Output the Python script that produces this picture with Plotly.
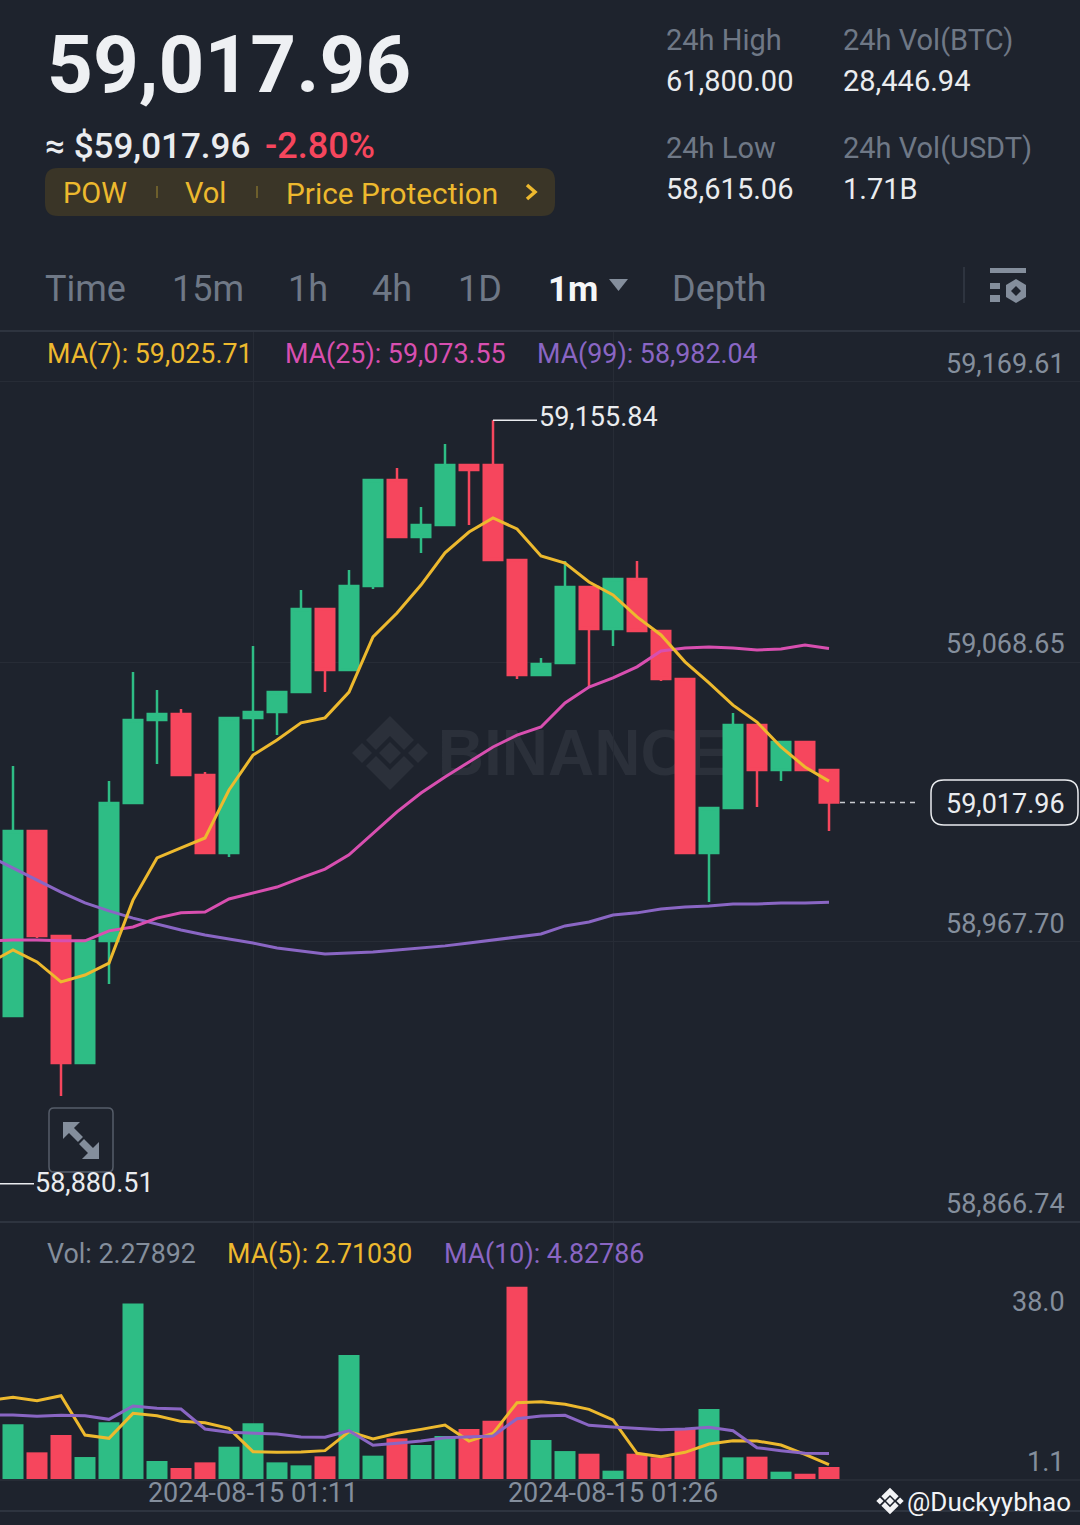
import pandas as pd
import plotly.graph_objects as go

W, H = 1080, 1525

# candles, 1 minute each
times = pd.date_range("2024-08-15 01:01", periods=35, freq="min")
ma_times = pd.date_range("2024-08-15 01:00", periods=36, freq="min")

opens = [58941.02, 59007.72, 58969.86, 58924.07, 58968.06, 59017.81, 59047.74, 59049.90, 59027.91,
         58999.78, 59048.46, 59050.62, 59057.83, 59087.76, 59065.77, 59096.05, 59134.27, 59113.72,
         59118.05, 59139.68, 59139.68, 59105.43, 59063.96, 59068.29, 59095.69, 59080.55, 59098.58,
         59079.83, 59062.52, 58999.78, 59016.01, 59045.94, 59029.71, 59039.81, 59029.71]
highs = [59031.15, 59007.72, 58969.86, 58968.06, 59025.74, 59065.04, 59058.55, 59051.70, 59028.99,
         59048.46, 59074.42, 59057.83, 59094.61, 59087.76, 59101.82, 59134.27, 59138.60, 59124.54,
         59147.25, 59139.68, 59155.84, 59105.43, 59070.09, 59105.07, 59095.69, 59098.58, 59105.07,
         59079.83, 59062.52, 59016.01, 59050.26, 59045.94, 59039.81, 59039.81, 59029.71]
lows = [58941.02, 58969.14, 58912.17, 58924.07, 58952.55, 59017.81, 59031.87, 59027.55, 58999.78,
        58998.34, 59036.56, 59042.33, 59057.83, 59057.83, 59065.77, 59094.97, 59113.72, 59107.95,
        59118.05, 59118.05, 59105.43, 59062.52, 59063.96, 59068.29, 59059.64, 59074.42, 59079.83,
        59061.80, 58999.78, 58982.12, 59016.01, 59016.37, 59025.74, 59029.71, 59007.72]
closes = [59007.72, 58969.86, 58924.07, 58968.06, 59017.81, 59047.74, 59049.90, 59027.91, 58999.78,
          59048.46, 59050.62, 59057.83, 59087.76, 59065.77, 59096.05, 59134.27, 59113.72, 59118.05,
          59139.68, 59137.88, 59105.43, 59063.96, 59067.93, 59095.69, 59080.55, 59098.58, 59079.83,
          59062.52, 58999.78, 59016.01, 59045.94, 59029.71, 59039.81, 59029.71, 59017.96]

ma7 = [58960.1, 58964.8, 58960.5, 58953.3, 58955.8, 58960.1, 58982.8, 58998.0, 59001.6, 59005.2,
       59022.5, 59035.1, 59040.5, 59046.7, 59048.5, 59057.8, 59077.7, 59086.3, 59096.4, 59108.0,
       59115.5, 59120.6, 59116.6, 59106.9, 59104.3, 59097.5, 59092.8, 59084.9, 59078.4, 59068.7,
       59061.1, 59053.1, 59047.0, 59038.0, 59030.8, 59025.71]
ma25 = [58968.1, 58968.4, 58968.4, 58968.1, 58968.1, 58971.7, 58973.1, 58976.3, 58978.2, 58978.5,
        58983.2, 58985.4, 58987.5, 58990.8, 58994.0, 58999.1, 59007.0, 59014.6, 59021.4, 59027.2,
        59032.6, 59038.0, 59042.3, 59045.2, 59053.9, 59059.6, 59062.9, 59066.9, 59072.6, 59073.7,
        59074.1, 59073.7, 59073.0, 59073.3, 59074.8, 59073.55]
ma99 = [58998.7, 58994.4, 58990.1, 58985.7, 58981.8, 58978.9, 58976.3, 58974.2, 58972.0, 58970.2,
        58968.8, 58967.3, 58965.5, 58964.5, 58963.4, 58963.7, 58964.1, 58964.8, 58965.5, 58966.3,
        58967.3, 58968.4, 58969.5, 58970.6, 58973.5, 58974.9, 58977.4, 58978.2, 58979.6, 58980.3,
        58980.7, 58981.4, 58981.4, 58981.8, 58981.8, 58982.04]

volumes = [10.4, 5.06, 8.35, 4.17, 10.75, 33.3, 3.42, 2.09, 3.16, 6.13, 10.56, 3.16, 2.59, 4.30,
           23.53, 4.43, 7.71, 6.45, 8.16, 9.5, 11.06, 36.5, 7.4, 5.3, 4.8, 1.58, 4.8, 4.11, 9.5,
           13.28, 4.11, 4.24, 1.39, 1.0, 2.27892]
vol_ma5 = [14.9, 15.5, 14.87, 15.8, 8.35, 7.72, 12.46, 12.0, 10.94, 10.69, 9.61, 5.19, 5.06, 5.12,
           5.38, 8.98, 7.59, 8.67, 9.42, 10.25, 7.2, 8.67, 14.48, 14.67, 14.17, 13.22, 11.2, 4.87,
           4.24, 5.06, 6.64, 7.27, 7.21, 6.45, 4.68, 2.71]
vol_ma10 = [12.14, 12.14, 11.89, 12.08, 12.02, 11.32, 13.85, 13.41, 13.28, 9.49, 8.85, 8.67, 8.54,
            7.97, 7.91, 9.17, 6.39, 6.77, 7.21, 7.84, 8.03, 8.16, 11.45, 11.95, 12.08, 10.19, 9.87,
            9.55, 9.36, 9.49, 9.81, 9.17, 5.94, 5.38, 4.87, 4.83]

price_ticks = [59169.61, 59068.65, 58967.70, 58866.74]
price_tick_labels = ["59,169.61", "59,068.65", "58,967.70", "58,866.74"]
time_ticks = ["2024-08-15 01:11", "2024-08-15 01:26"]
last_price = 59017.96
high_price = 59155.84
low_price = 58880.51

BG = "#1e232d"
GREEN = "#2ebd85"
RED = "#f6465d"
YELLOW = "#edb92e"
PINK = "#d84fb0"
PURPLE = "#8a66c4"
GREY = "#848e9c"
DIM = "#6f7886"
WHITE = "#eaecef"
GRID = "#272c36"
LINE = "#2e343f"
MARK = "#2b303a"


def fx(x):
    return x / W


def fy(y):
    return 1 - y / H


def to_path(points, close=True):
    s = "M" + " L".join(f"{fx(x):.5f},{fy(y):.5f}" for x, y in points)
    return s + " Z" if close else s


def round_rect(x0, y0, x1, y1, r):
    # rounded corners as short Q curves, paper coords
    return (f"M{fx(x0 + r):.5f},{fy(y0):.5f} L{fx(x1 - r):.5f},{fy(y0):.5f} "
            f"Q{fx(x1):.5f},{fy(y0):.5f} {fx(x1):.5f},{fy(y0 + r):.5f} "
            f"L{fx(x1):.5f},{fy(y1 - r):.5f} Q{fx(x1):.5f},{fy(y1):.5f} {fx(x1 - r):.5f},{fy(y1):.5f} "
            f"L{fx(x0 + r):.5f},{fy(y1):.5f} Q{fx(x0):.5f},{fy(y1):.5f} {fx(x0):.5f},{fy(y1 - r):.5f} "
            f"L{fx(x0):.5f},{fy(y0 + r):.5f} Q{fx(x0):.5f},{fy(y0):.5f} {fx(x0 + r):.5f},{fy(y0):.5f} Z")


shapes = []
annotations = []


def poly(points, fill=None, line=None, width=0, layer="above", close=True):
    shapes.append(dict(type="path", path=to_path(points, close), xref="paper", yref="paper",
                       fillcolor=fill if fill else "rgba(0,0,0,0)",
                       line=dict(color=line if line else "rgba(0,0,0,0)", width=width), layer=layer))


def hline(y, x0=0, x1=W, color=LINE, width=2):
    shapes.append(dict(type="line", xref="paper", yref="paper", x0=fx(x0), x1=fx(x1), y0=fy(y), y1=fy(y),
                       line=dict(color=color, width=width)))


def note(text, x, y, size=27, color=WHITE, anchor="left", weight=None):
    font = dict(family="Roboto", size=size, color=color)
    if weight:
        font["weight"] = weight
    annotations.append(dict(text=text, x=fx(x), y=fy(y), xref="paper", yref="paper", showarrow=False,
                            xanchor=anchor, yanchor="middle", font=font, borderpad=0))


def logo(cx, cy, s, fill, layer="above"):
    diamond = lambda dx, r: [(cx + dx - r, cy), (cx + dx, cy - r), (cx + dx + r, cy), (cx + dx, cy + r)]
    poly(diamond(0, 11 * s), fill, layer=layer)
    poly(diamond(-28 * s, 10 * s), fill, layer=layer)
    poly(diamond(28 * s, 10 * s), fill, layer=layer)
    for d in (1, -1):
        chev = [(0, -37), (24, -13), (14, -3), (0, -17), (-14, -3), (-24, -13)]
        poly([(cx + a * s, cy + d * b * s) for a, b in chev], fill, layer=layer)


# header
note("59,017.96", 46, 65, 80, "#eef0f3", weight=700)
note("≈ $59,017.96", 44, 146, 35, WHITE, weight=500)
note("-2.80%", 264, 146, 36, RED, weight=500)
shapes.append(dict(type="path", path=round_rect(45, 168, 555, 216, 13), xref="paper", yref="paper",
                   fillcolor="#3a3527", line=dict(width=0)))
note("POW", 62, 193, 29, YELLOW)
note("Vol", 184, 193, 29, YELLOW)
note("Price Protection", 285, 193, 29.8, YELLOW)
for sx in (157, 257):
    poly([(sx, 186), (sx, 198)], line="#6d5f2c", width=2, close=False)
poly([(527, 185), (535, 192), (527, 199)], line=YELLOW, width=3.5, close=False)

for label, value, x, y in [("24h High", "61,800.00", 665, 40), ("24h Vol(BTC)", "28,446.94", 842, 40),
                           ("24h Low", "58,615.06", 665, 148), ("24h Vol(USDT)", "1.71B", 842, 148)]:
    note(label, x, y, 29, DIM)
    note(value, x, y + 41, 29, WHITE)

# tabs
for tab, x in [("Time", 44), ("15m", 171), ("1h", 287), ("4h", 371), ("1D", 457), ("Depth", 671)]:
    note(tab, x, 289, 36, DIM)
note("1m", 547, 289, 35, "#f5f6f7", weight=700)
poly([(609, 279), (628, 279), (618.5, 291)], GREY)
poly([(964, 267), (964, 303)], line=LINE, width=2, close=False)
# settings icon
poly([(990, 268), (1026, 268), (1026, 273), (990, 273)], GREY)
poly([(990, 283), (1000, 283), (1000, 289), (990, 289)], GREY)
poly([(990, 295), (1000, 295), (1000, 302), (990, 302)], GREY)
poly([(1016, 279), (1026, 285), (1026, 297), (1016, 303), (1006, 297), (1006, 285)], GREY)
poly([(1016, 286), (1021, 291), (1016, 296), (1011, 291)], BG)

# separators
hline(331)
hline(1222)
hline(1480, color=GRID)
hline(1511)

# MA captions
note("MA(7): 59,025.71", 46, 354, 26.8, YELLOW)
note("MA(25): 59,073.55", 284, 354, 26.8, PINK)
note("MA(99): 58,982.04", 536, 354, 26.8, PURPLE)
note("Vol: 2.27892", 46, 1254, 26.8, GREY)
note("MA(5): 2.71030", 226, 1254, 26.8, YELLOW)
note("MA(10): 4.82786", 443, 1254, 26.8, PURPLE)

# watermark goes under the candles
logo(390, 753, 1, MARK, layer="below")
shapes.append(dict(type="rect", xref="paper", yref="paper", x0=fx(440), x1=fx(727), y0=fy(775), y1=fy(719),
                   line=dict(width=0), fillcolor="rgba(0,0,0,0)", layer="below",
                   label=dict(text="BINANCE", textposition="middle center",
                              font=dict(family="Liberation Sans", size=64, color=MARK, weight=700))))

# price labels sit above their grid lines
for value, text in zip(price_ticks, price_tick_labels):
    annotations.append(dict(text=text, x=fx(1067), y=value, xref="paper", yref="y", yshift=18, showarrow=False,
                            xanchor="right", yanchor="middle", font=dict(family="Roboto", size=27, color=GREY)))
note("38.0", 1066, 1302, 27, GREY, anchor="right")
note("1.1", 1065, 1462, 27, GREY, anchor="right")

# high / low markers
shapes.append(dict(type="line", xref="paper", yref="y", x0=fx(493), x1=fx(537), y0=high_price, y1=high_price,
                   line=dict(color=WHITE, width=1.5)))
shapes.append(dict(type="line", xref="paper", yref="y", x0=0, x1=fx(34), y0=low_price, y1=low_price,
                   line=dict(color=WHITE, width=1.5)))
annotations.append(dict(text=f"{high_price:,.2f}", x=fx(537), y=high_price, yshift=3, xref="paper", yref="y",
                        showarrow=False, xanchor="left", yanchor="middle",
                        font=dict(family="Roboto", size=27, color=WHITE)))
annotations.append(dict(text=f"{low_price:,.2f}", x=fx(33), y=low_price, yshift=1, xref="paper", yref="y",
                        showarrow=False, xanchor="left", yanchor="middle",
                        font=dict(family="Roboto", size=27, color=WHITE)))

# last price
shapes.append(dict(type="line", xref="paper", yref="y", x0=fx(840), x1=fx(918), y0=last_price, y1=last_price,
                   line=dict(color="#c9ccd1", width=1.5, dash="5px,5px")))
shapes.append(dict(type="path", path=round_rect(931, 780, 1078, 825, 13), xref="paper", yref="paper",
                   fillcolor=BG, line=dict(color=WHITE, width=1.5)))
note(f"{last_price:,.2f}", 1005, 804, 27, WHITE, anchor="center")

# expand button
shapes.append(dict(type="path", path=round_rect(49, 1108, 113, 1172, 5), xref="paper", yref="paper",
                   fillcolor="rgba(0,0,0,0)", line=dict(color="#565d69", width=1.5)))
poly([(63, 1122), (80, 1122), (74, 1128), (83, 1137), (78, 1142), (69, 1133), (63, 1139)], GREY)
poly([(99, 1159), (82, 1159), (88, 1153), (79, 1144), (84, 1139), (93, 1148), (99, 1142)], GREY)

# credit
logo(890, 1501, 0.36, "#f2f3f5")
note("@Duckyybhao", 906, 1502, 26, "#f2f3f5")

vol_colors = [GREEN if c >= o else RED for o, c in zip(opens, closes)]

fig = go.Figure()
fig.add_trace(go.Candlestick(x=times, open=opens, high=highs, low=lows, close=closes, whiskerwidth=0,
                             increasing=dict(line=dict(color=GREEN, width=2.5), fillcolor=GREEN),
                             decreasing=dict(line=dict(color=RED, width=2.5), fillcolor=RED)))
for values, color in [(ma99, PURPLE), (ma25, PINK), (ma7, YELLOW)]:
    fig.add_trace(go.Scatter(x=ma_times, y=values, mode="lines", line=dict(color=color, width=3)))
fig.add_trace(go.Bar(x=times, y=volumes, marker=dict(color=vol_colors, line=dict(width=0)), yaxis="y2"))
for values, color in [(vol_ma5, YELLOW), (vol_ma10, PURPLE)]:
    fig.add_trace(go.Scatter(x=ma_times, y=values, mode="lines", line=dict(color=color, width=3), yaxis="y2"))

fig.update_layout(
    width=W, height=H, margin=dict(l=0, r=0, t=0, b=0), autosize=False,
    paper_bgcolor=BG, plot_bgcolor=BG, showlegend=False,
    font=dict(family="Roboto", color=GREY),
    boxgap=0.229, boxgroupgap=0, bargap=0.125,
    shapes=shapes, annotations=annotations,
    xaxis=dict(type="date", range=["2024-08-15 01:00:27.5", "2024-08-15 01:45:27.5"],
               rangeslider=dict(visible=False), anchor="y2", domain=[0, 1],
               tickmode="array", tickvals=time_ticks, ticktext=time_ticks, ticklabelstandoff=-5,
               tickfont=dict(family="Roboto", size=27, color=GREY), ticklen=0, ticks="",
               showgrid=True, gridcolor=GRID, gridwidth=1, zeroline=False, showline=False),
    yaxis=dict(domain=[fy(1222), fy(332)], range=[58866.74, 59187.63],
               tickmode="array", tickvals=price_ticks[:3], showticklabels=False,
               showgrid=True, gridcolor=GRID, zeroline=False, fixedrange=True),
    yaxis2=dict(domain=[fy(1479), fy(1222)], range=[0, 48.77], showticklabels=False,
                showgrid=False, zeroline=False, fixedrange=True),
)

fig.write_html("out.html", config={"displayModeBar": False},
               post_script=f"document.body.style.margin='0';document.body.style.background='{BG}';")
